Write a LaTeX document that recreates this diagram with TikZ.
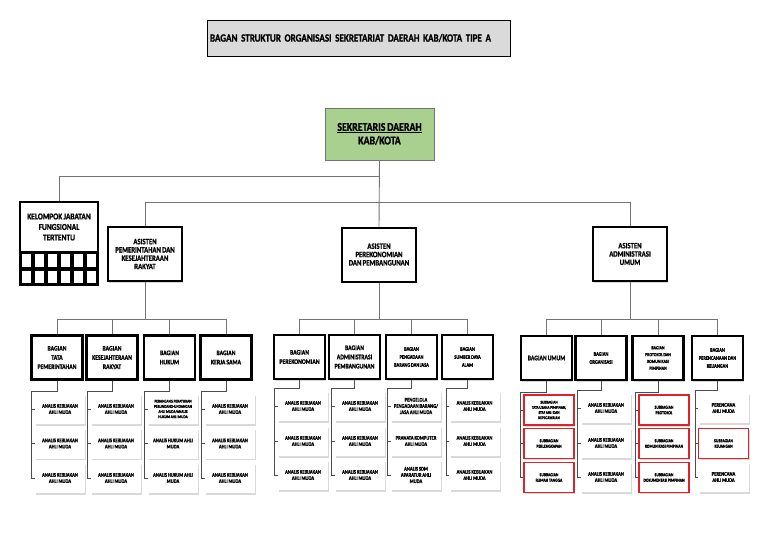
\documentclass[tikz,border=0pt]{standalone}
\usepackage{fontspec}
\newfontfamily\orgfont{Carlito Bold}[FakeStretch=0.82, FakeBold=1.2, WordSpace=0.8]
\usetikzlibrary{shadows}
\definecolor{sekgreen}{RGB}{169,208,142}
\definecolor{subred}{RGB}{222,34,40}
\definecolor{titlegray}{RGB}{218,218,218}
\tikzset{
  conn/.style={black!55, line width=0.9pt},
  brk/.style={black!70, line width=0.8pt},
  shd/.style={drop shadow={opacity=0.3, shadow xshift=1.2pt, shadow yshift=-1.5pt}},
  titlebox/.style={draw, fill=titlegray, line width=0.8pt, shd, minimum width=303, minimum height=36,
    text width=297, align=left, inner sep=3pt, font={\orgfont\fontsize{11}{12}\selectfont}},
  sekbox/.style={draw=black!55, fill=sekgreen, line width=0.6pt, minimum width=109, minimum height=52,
    align=center, font={\orgfont\fontsize{12}{13.5}\selectfont}},
  kelbox/.style={draw, fill=white, line width=2.4pt, minimum width=78, minimum height=50,
    align=center, font={\orgfont\fontsize{9}{10.5}\selectfont}},
  asbox/.style={draw, fill=white, line width=2pt, shd, minimum width=74, minimum height=54,
    align=center, font={\orgfont\fontsize{8.2}{8.3}\selectfont}},
  bag/.style={draw, fill=white, line width=2.4pt, shd, minimum width=51, minimum height=44,
    align=center, inner sep=1pt, font={\orgfont\fontsize{7}{9.2}\selectfont}},
  bagsm/.style={bag, font={\orgfont\fontsize{5.4}{8}\selectfont}},
  jab/.style={fill=white, shd, minimum width=50, minimum height=30, align=center, inner sep=1pt,
    font={\orgfont\fontsize{5.6}{6.2}\selectfont}},
  jabsm/.style={jab, font={\orgfont\fontsize{4.3}{5.2}\selectfont}},
  sub/.style={jab, draw=subred, line width=1.4pt, font={\orgfont\fontsize{4.6}{5.5}\selectfont}}
}
\begin{document}
\begin{tikzpicture}[x=1pt, y=-1pt]
  \useasboundingbox (0,0) rectangle (768,543);
  \node[titlebox] (judul) at (358.5,38) {BAGAN STRUKTUR ORGANISASI SEKRETARIAT DAERAH KAB/KOTA TIPE A};
  \node[sekbox] (sekda) at (379.5,134) {\underline{SEKRETARIS DAERAH}\\KAB/KOTA};

  % kelompok jabatan fungsional
  \node[kelbox] (kjf) at (59,227) {KELOMPOK JABATAN\\FUNGSIONAL\\TERTENTU};
  \node[draw, fill=black, line width=2.4pt, minimum width=78, minimum height=33] (kjfgrid) at (59,268.5) {};
  \foreach \c in {0,...,5}
    \foreach \r in {0,1}
      \fill[white] ({22+13*\c},{254+16.5*\r}) rectangle ({31+13*\c},{266.5+16.5*\r});

  % asisten
  \node[asbox] (as1) at (145,254) {ASISTEN\\PEMERINTAHAN DAN\\KESEJAHTERAAN\\RAKYAT};
  \node[asbox] (as2) at (379,254.5) {ASISTEN\\PEREKONOMIAN\\DAN PEMBANGUNAN};
  \node[asbox] (as3) at (630,254) {ASISTEN\\ADMINISTRASI\\UMUM};

  \coordinate (busK) at (0,176);
  \coordinate (busA) at (0,202);
  \coordinate (busB) at (0,319);
  \draw[conn] (sekda.south) -- (as2.north);
  \draw[conn] (sekda.south |- busK) -| (kjf.north);
  \draw[conn] (as1.north) |- (as3.north |- busA) -- (as3.north);

  % bagian
  \node[bag] (bg1) at (57,357.5) {BAGIAN\\TATA\\PEMERINTAHAN};
  \node[bag] (bg2) at (112,357.5) {BAGIAN\\KESEJAHTERAAN\\RAKYAT};
  \node[bag] (bg3) at (169.5,357.5) {BAGIAN\\HUKUM};
  \node[bag] (bg4) at (226,357.5) {BAGIAN\\KERJA SAMA};
  \node[bag] (bg5) at (299.5,357) {BAGIAN\\PEREKONOMIAN};
  \node[bag] (bg6) at (354.5,357) {BAGIAN\\ADMINISTRASI\\PEMBANGUNAN};
  \node[bagsm] (bg7) at (411.5,357) {BAGIAN\\PENGADAAN\\BARANG DAN JASA};
  \node[bagsm] (bg8) at (467.5,357) {BAGIAN\\SUMBER DAYA\\ALAM};
  \node[bag] (bg9) at (546.5,358) {BAGIAN UMUM};
  \node[bagsm] (bg10) at (601,358) {BAGIAN\\ORGANISASI};
  \node[bagsm, font={\orgfont\fontsize{4.8}{6.8}\selectfont}] (bg11) at (658,358) {BAGIAN\\PROTOKOL DAN\\KOMUNIKASI\\PIMPINAN};
  \node[bagsm] (bg12) at (717.5,358) {BAGIAN\\PERENCANAAN DAN\\KEUANGAN};

  \draw[conn] (as1.south) -- (as1.south |- busB);
  \draw[conn] (as2.south) -- (as2.south |- busB);
  \draw[conn] (as3.south) -- (as3.south |- busB);
  \draw[conn] (bg1.north) |- (bg4.north |- busB) -- (bg4.north);
  \draw[conn] (bg5.north) |- (bg8.north |- busB) -- (bg8.north);
  \draw[conn] (bg9.north) |- (bg12.north |- busB) -- (bg12.north);
  \foreach \b in {bg2,bg3,bg6,bg7,bg10,bg11}
    \draw[conn] (\b.north) -- (\b.north |- busB);

  % jabatan di bawah bagian
  \node[jab] (ja1) at (60,409) {ANALIS KEBIJAKAN\\AHLI MUDA};
  \node[jab] (jb1) at (60,443.5) {ANALIS KEBIJAKAN\\AHLI MUDA};
  \node[jab] (jc1) at (60,478) {ANALIS KEBIJAKAN\\AHLI MUDA};
  \node[jab] (ja2) at (116,409) {ANALIS KEBIJAKAN\\AHLI MUDA};
  \node[jab] (jb2) at (116,443.5) {ANALIS KEBIJAKAN\\AHLI MUDA};
  \node[jab] (jc2) at (116,478) {ANALIS KEBIJAKAN\\AHLI MUDA};
  \node[jabsm] (ja3) at (173,409) {PERANCANG PERATURAN\\PERUNDANG-UNDANGAN\\AHLI MUDA/ANALIS\\HUKUM AHLI MUDA};
  \node[jab] (jb3) at (173,443.5) {ANALIS HUKUM AHLI\\MUDA};
  \node[jab] (jc3) at (173,478) {ANALIS HUKUM AHLI\\MUDA};
  \node[jab] (ja4) at (230,409) {ANALIS KEBIJAKAN\\AHLI MUDA};
  \node[jab] (jb4) at (230,443.5) {ANALIS KEBIJAKAN\\AHLI MUDA};
  \node[jab] (jc4) at (230,478) {ANALIS KEBIJAKAN\\AHLI MUDA};

  \node[jab] (ja5) at (303,406) {ANALIS KEBIJAKAN\\AHLI MUDA};
  \node[jab] (jb5) at (303,441) {ANALIS KEBIJAKAN\\AHLI MUDA};
  \node[jab] (jc5) at (303,475) {ANALIS KEBIJAKAN\\AHLI MUDA};
  \node[jab] (ja6) at (360,406) {ANALIS KEBIJAKAN\\AHLI MUDA};
  \node[jab] (jb6) at (360,441) {ANALIS KEBIJAKAN\\AHLI MUDA};
  \node[jab] (jc6) at (360,475) {ANALIS KEBIJAKAN\\AHLI MUDA};
  \node[jab] (ja7) at (416,406) {PENGELOLA\\PENGADAAN BARANG/\\JASA AHLI MUDA};
  \node[jab] (jb7) at (416,441) {PRANATA KOMPUTER\\AHLI MUDA};
  \node[jab] (jc7) at (416,475) {ANALIS SDM\\APARATUR AHLI\\MUDA};
  \node[jab] (ja8) at (474.5,406) {ANALIS KEBIJAKAN\\AHLI MUDA};
  \node[jab] (jb8) at (474.5,441) {ANALIS KEBIJAKAN\\AHLI MUDA};
  \node[jab] (jc8) at (474.5,475) {ANALIS KEBIJAKAN\\AHLI MUDA};

  \node[sub, font={\orgfont\fontsize{4.2}{5.2}\selectfont}] (ja9) at (549,410) {SUBBAGIAN\\TATA USAHA PIMPINAN,\\STAF AHLI DAN\\KEPEGAWAIAN};
  \node[sub] (jb9) at (549,443.5) {SUBBAGIAN\\PERLENGKAPAN};
  \node[sub] (jc9) at (549,477.5) {SUBBAGIAN\\RUMAH TANGGA};
  \node[jab] (ja10) at (606,408) {ANALIS KEBIJAKAN\\AHLI MUDA};
  \node[jab] (jb10) at (606,443) {ANALIS KEBIJAKAN\\AHLI MUDA};
  \node[jab] (jc10) at (606,477) {ANALIS KEBIJAKAN\\AHLI MUDA};
  \node[sub] (ja11) at (664,410) {SUBBAGIAN\\PROTOKOL};
  \node[sub] (jb11) at (664,443.5) {SUBBAGIAN\\KOMUNIKASI PIMPINAN};
  \node[sub] (jc11) at (664,477.5) {SUBBAGIAN\\DOKUMENTASI PIMPINAN};
  \node[jab] (ja12) at (723.5,408) {PERENCANA\\AHLI MUDA};
  \node[sub] (jb12) at (723.5,443.5) {SUBBAGIAN\\KEUANGAN};
  \node[jab] (jc12) at (723.5,477) {PERENCANA\\AHLI MUDA};

  \foreach \i in {1,...,12} {
    \draw[brk] (bg\i.south) |- ([shift={(-3pt,2pt)}]ja\i.north west) |- (jc\i.west);
    \draw[brk] (ja\i.west) -- ++(-3,0);
    \draw[brk] (jb\i.west) -- ++(-3,0);
  }
\end{tikzpicture}
\end{document}
